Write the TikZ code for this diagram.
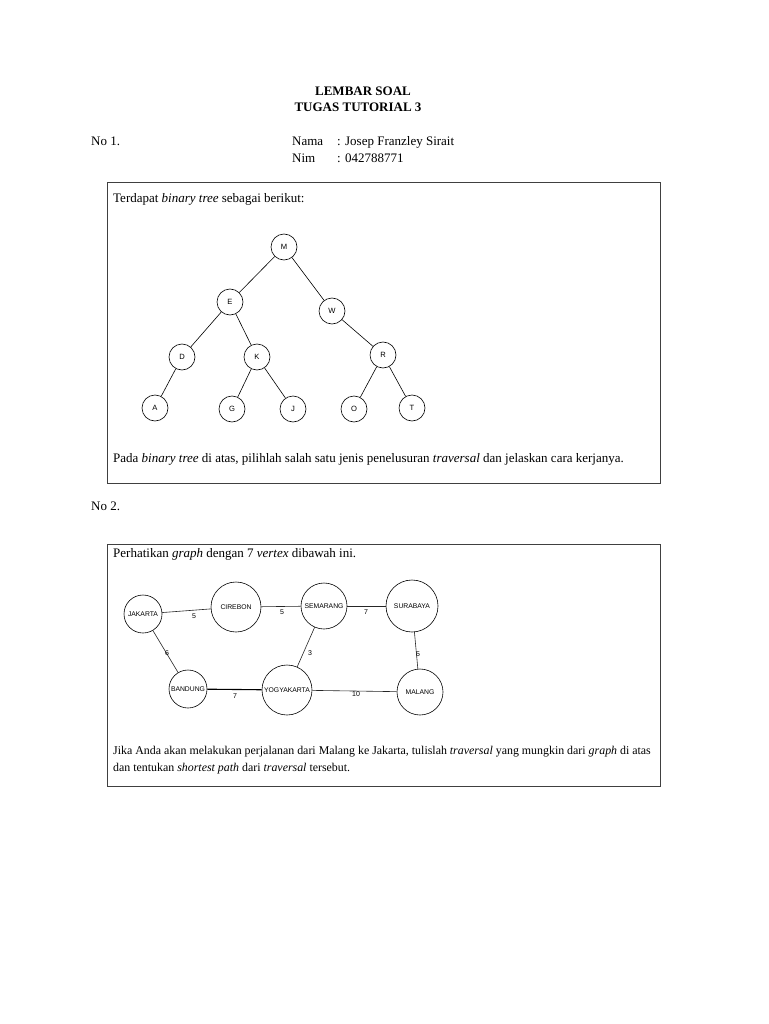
\documentclass[tikz,border=0pt]{standalone}
\usepackage{fontspec}
\setmainfont{Liberation Serif}
\newfontfamily\lsans{Liberation Sans}
\begin{document}
\begin{tikzpicture}[x=1pt,y=-1pt,
  txt/.style={anchor=base west,inner sep=0pt,font=\fontsize{13}{15}\selectfont},
  small/.style={anchor=base west,inner sep=0pt,font=\fontsize{11.9}{14}\selectfont},
  ttl/.style={anchor=base,inner sep=0pt,font=\fontsize{13}{15}\selectfont\bfseries},
  frame/.style={draw=black!75,line width=1pt},
  tnode/.style={circle,draw,line width=0.6pt,minimum size=26pt,inner sep=0pt,font=\lsans\fontsize{7.6}{8}\selectfont},
  gnode/.style={circle,draw,line width=0.6pt,inner sep=0pt,font=\lsans\fontsize{6.8}{8}\selectfont},
  tedge/.style={line width=0.6pt},
  gedge/.style={line width=0.6pt,draw=black!85},
  wlab/.style={inner sep=0pt,font=\lsans\fontsize{7}{8}\selectfont}]
\useasboundingbox[fill=white] (0,0) rectangle (768,1024);

% header
\node[ttl] (t1) at (363,95.5) {LEMBAR SOAL};
\node[ttl] (t2) at (358,111.5) {TUGAS TUTORIAL 3};
\node[txt] (no1) at (91,145.5) {No 1.};
\node[txt] (nama) at (292,145.5) {Nama};
\node[txt] (namav) at (337,145.5) {: Josep Franzley Sirait};
\node[txt] (nim) at (292,162.5) {Nim};
\node[txt] (nimv) at (337,162.5) {: 042788771};

% box 1
\draw[frame] (107,183) rectangle (660,483);
\node[txt] (q1) at (113,202.5) {Terdapat \textit{binary tree} sebagai berikut:};

\node[tnode] (M) at (284,247) {M};
\node[tnode] (E) at (230,302) {E};
\node[tnode] (W) at (332,311) {W};
\node[tnode] (D) at (182,357) {D};
\node[tnode] (K) at (257,357) {K};
\node[tnode] (R) at (383,355) {R};
\node[tnode] (A) at (155,408) {A};
\node[tnode] (G) at (232,409) {G};
\node[tnode] (J) at (293,409) {J};
\node[tnode] (O) at (354,409) {O};
\node[tnode] (T) at (412,408) {T};
\draw[tedge] (M) -- (E);
\draw[tedge] (M) -- (W);
\draw[tedge] (E) -- (D);
\draw[tedge] (E) -- (K);
\draw[tedge] (W) -- (R);
\draw[tedge] (D) -- (A);
\draw[tedge] (K) -- (G);
\draw[tedge] (K) -- (J);
\draw[tedge] (R) -- (O);
\draw[tedge] (R) -- (T);

\node[txt] (q1b) at (113,462.5) {Pada \textit{binary tree} di atas, pilihlah salah satu jenis penelusuran \textit{traversal} dan jelaskan cara kerjanya.};

\node[txt] (no2) at (91,510.5) {No 2.};

% box 2
\draw[frame] (107,544) rectangle (660,786);
\node[txt] (q2) at (113,557.5) {Perhatikan \textit{graph} dengan 7 \textit{vertex} dibawah ini.};

\node[gnode,minimum size=38pt] (jak) at (143,614) {JAKARTA};
\node[gnode,minimum size=50pt] (cir) at (236,607) {CIREBON};
\node[gnode,minimum size=46pt] (sem) at (324,606) {SEMARANG};
\node[gnode,minimum size=52pt] (sur) at (412,606) {SURABAYA};
\node[gnode,minimum size=38pt] (ban) at (188,689) {BANDUNG};
\node[gnode,minimum size=50pt] (yog) at (287,690) {YOGYAKARTA};
\node[gnode,minimum size=46pt] (mal) at (420,692) {MALANG};

\draw[gedge] (jak) -- (cir);
\draw[gedge] (cir) -- (sem);
\draw[gedge] (sem) -- (sur);
\draw[gedge] (jak) -- (ban);
\draw[gedge] (sem) -- (yog);
\draw[gedge] (sur) -- (mal);
\draw[line width=1.1pt] (ban) -- (yog);
\draw[gedge] (yog) -- (mal);

\node[wlab] (l1) at (194,616) {5};
\node[wlab] (l2) at (282,612) {5};
\node[wlab] (l3) at (366,612) {7};
\node[wlab] (l4) at (167,653) {6};
\node[wlab] (l5) at (310,653) {3};
\node[wlab] (l6) at (418,654) {5};
\node[wlab] (l7) at (235,696) {7};
\node[wlab] (l8) at (356,694) {10};

\node[small] (q2a) at (113,754) {Jika Anda akan melakukan perjalanan dari Malang ke Jakarta, tulislah \textit{traversal} yang mungkin dari \textit{graph} di atas};
\node[small] (q2b) at (113,771) {dan tentukan \textit{shortest path} dari \textit{traversal} tersebut.};
\end{tikzpicture}
\end{document}
